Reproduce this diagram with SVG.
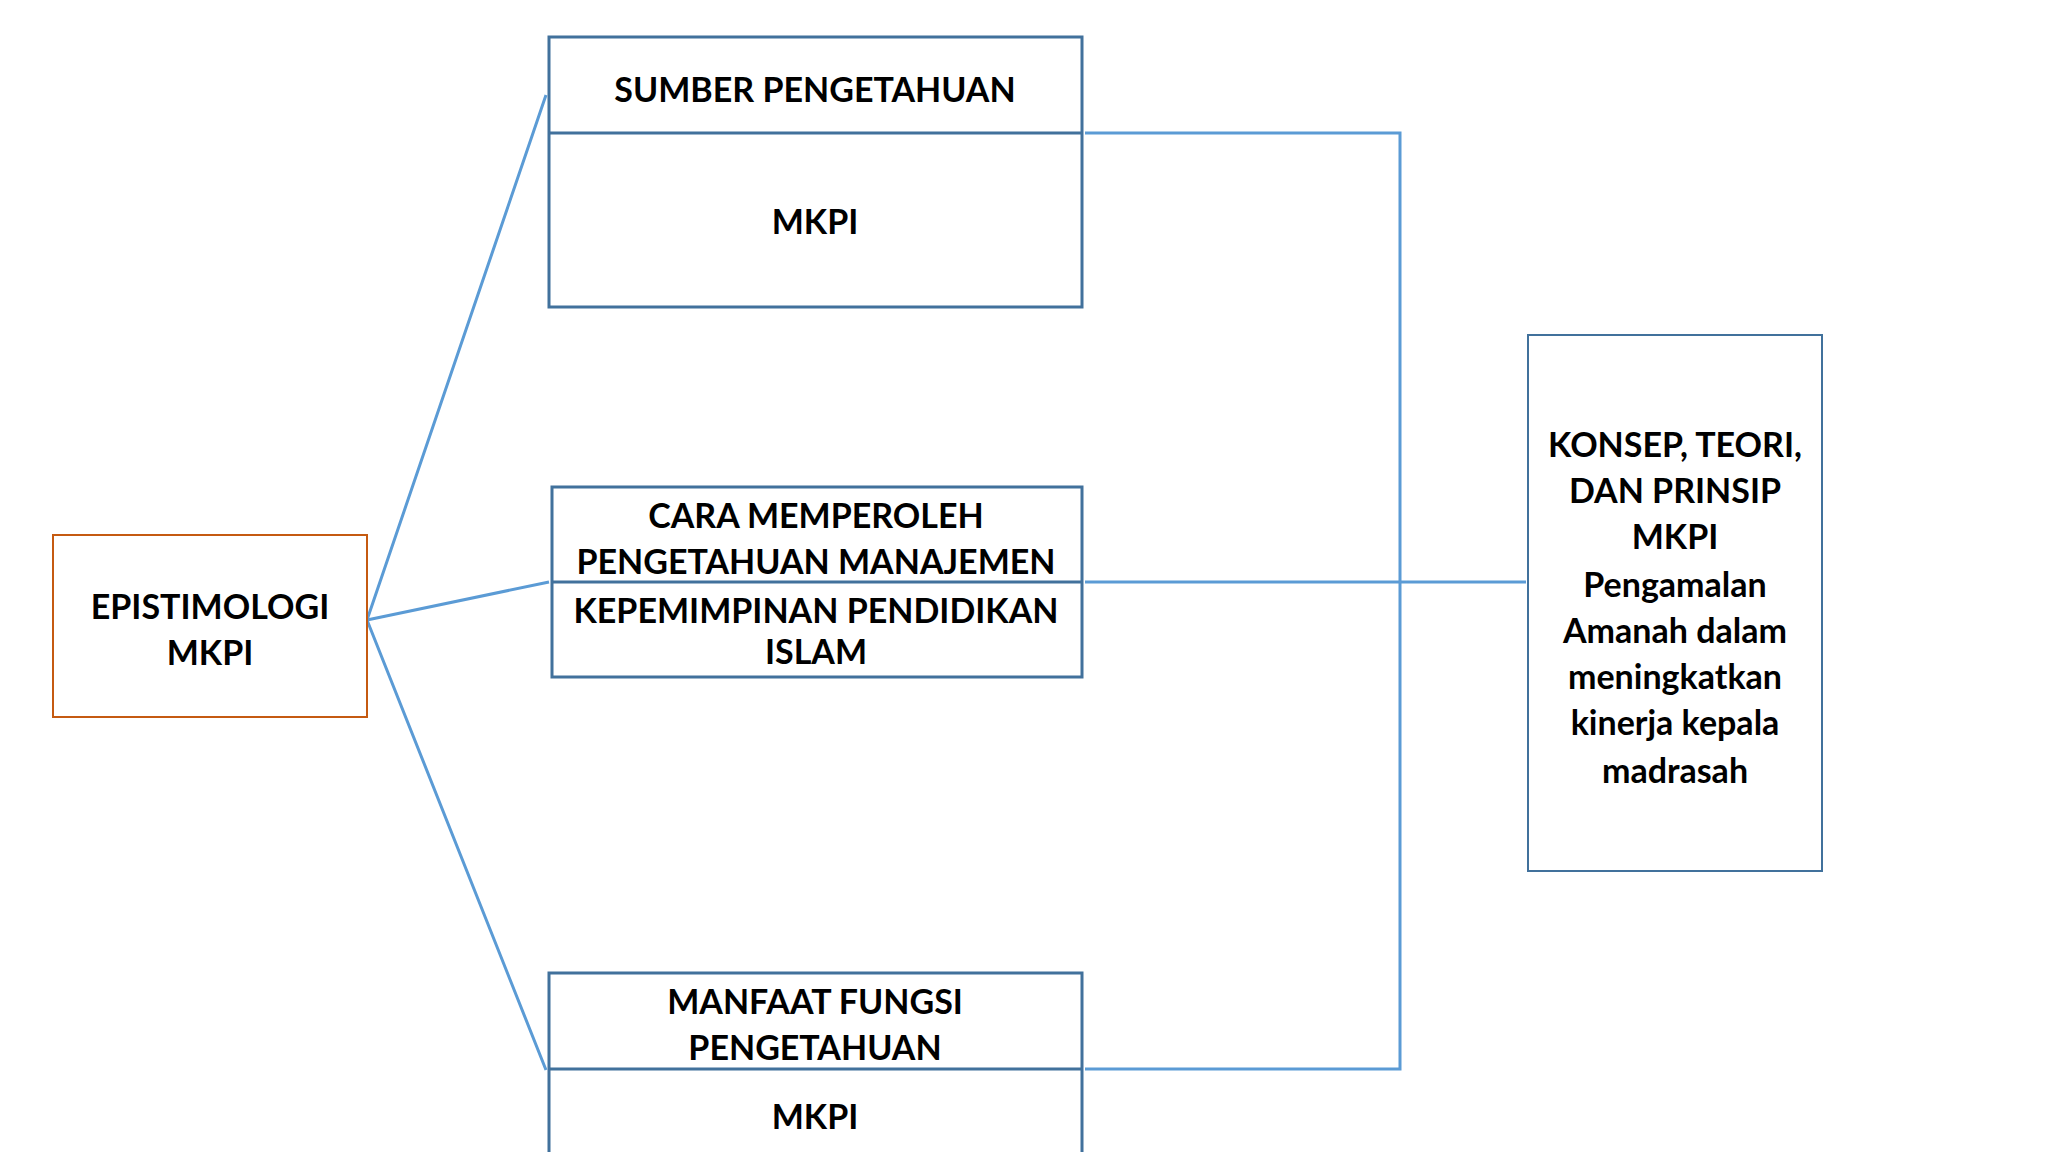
<svg xmlns="http://www.w3.org/2000/svg" width="2048" height="1152" viewBox="0 0 2048 1152">
<style>
.b{fill:#fff;stroke:#41719c;stroke-width:3}
.o{fill:#fff;stroke:#c55a11;stroke-width:2}
.r{fill:#fff;stroke:#41719c;stroke-width:2}
text{font-family:Lato,"Liberation Sans",sans-serif;font-weight:bold;font-size:34px;fill:#000;text-anchor:middle;dominant-baseline:central}
.c{stroke:#5b9bd5;stroke-width:3;fill:none}
</style>
<rect width="2048" height="1152" fill="#fff"/>
<g id="connectors">
<path class="c" d="M367 620L546 95M367 620L549 582M367 620L546 1070"/>
<path class="c" d="M1085 133H1400V1069H1085M1085 582H1526"/>
</g>
<g id="epistimologi"><rect class="o" x="53" y="535" width="314" height="182"/>
<text x="210" y="605">EPISTIMOLOGI</text><text x="210" y="651">MKPI</text></g>
<g id="sumber"><rect class="b" x="549" y="37" width="533" height="270"/><line class="b" x1="549" y1="133" x2="1082" y2="133"/>
<text x="815" y="88">SUMBER PENGETAHUAN</text><text x="815" y="220">MKPI</text></g>
<g id="cara"><rect class="b" x="552" y="487" width="530" height="190"/><line class="b" x1="552" y1="582" x2="1082" y2="582"/>
<text x="816" y="514">CARA MEMPEROLEH</text><text x="816" y="560">PENGETAHUAN MANAJEMEN</text><text x="816" y="609">KEPEMIMPINAN PENDIDIKAN</text><text x="816" y="650">ISLAM</text></g>
<g id="manfaat"><rect class="b" x="549" y="973" width="533" height="190"/><line class="b" x1="549" y1="1069" x2="1082" y2="1069"/>
<text x="815" y="1000">MANFAAT FUNGSI</text><text x="815" y="1046">PENGETAHUAN</text><text x="815" y="1115">MKPI</text></g>
<g id="konsep"><rect class="r" x="1528" y="335" width="294" height="536"/>
<text x="1675" y="443">KONSEP, TEORI,</text><text x="1675" y="489">DAN PRINSIP</text><text x="1675" y="535">MKPI</text><text x="1675" y="583">Pengamalan</text><text x="1675" y="629">Amanah dalam</text><text x="1675" y="675">meningkatkan</text><text x="1675" y="721">kinerja kepala</text><text x="1675" y="769">madrasah</text></g>
</svg>
